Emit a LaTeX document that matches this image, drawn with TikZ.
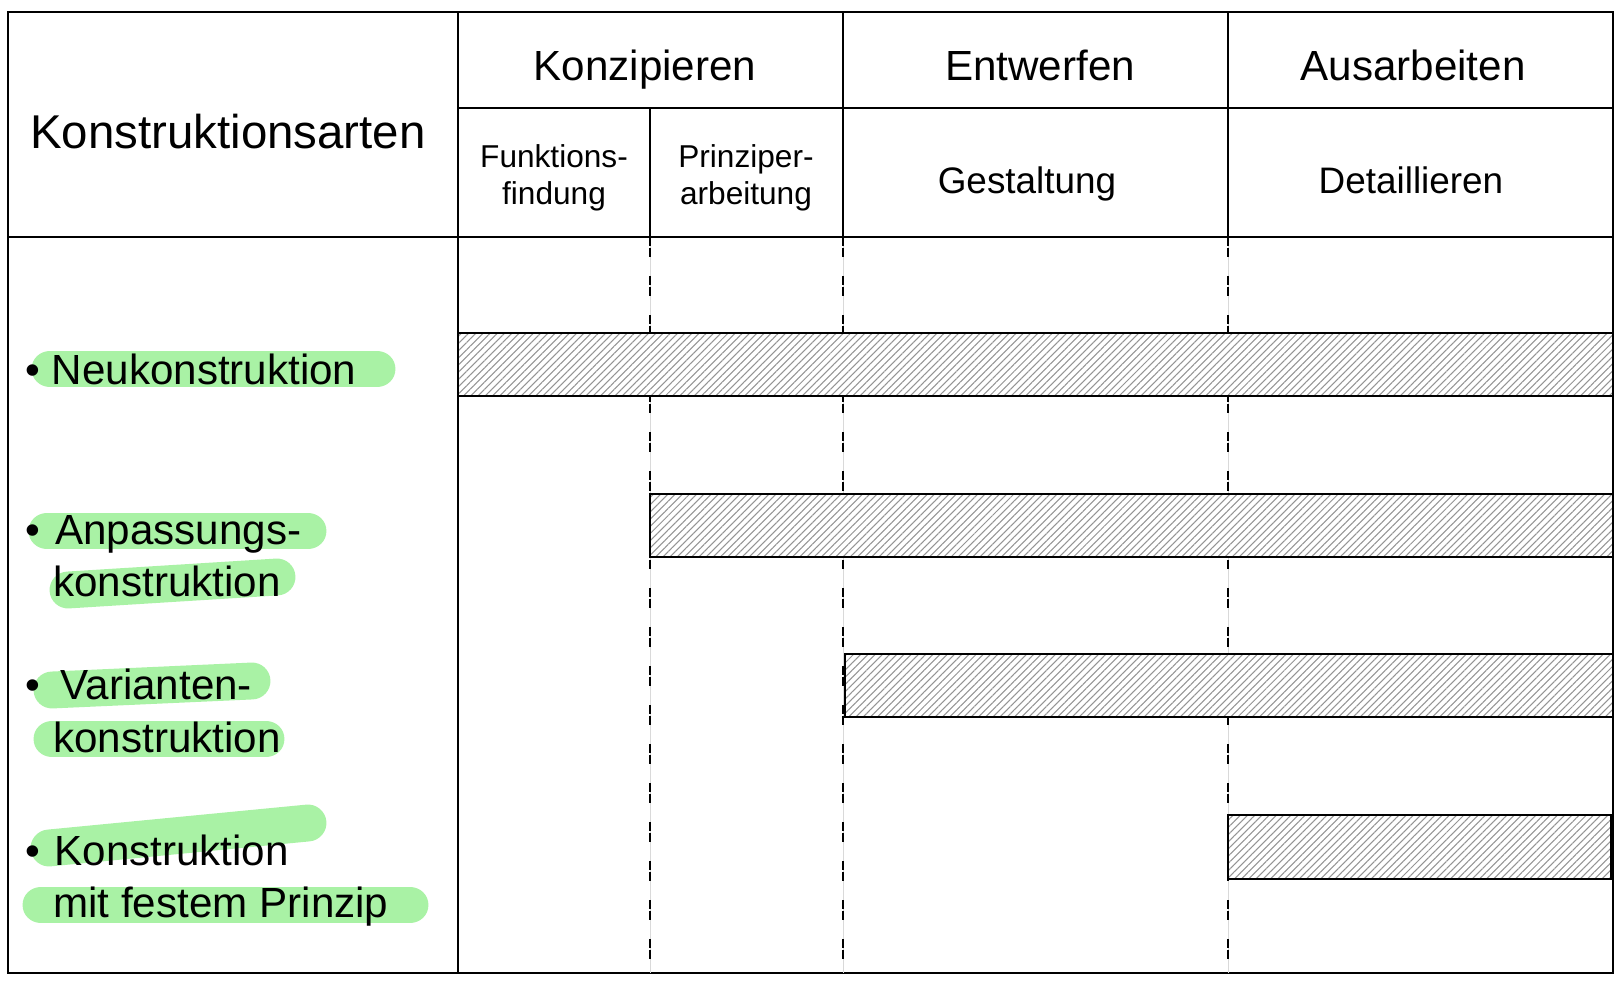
\documentclass[tikz,border=0pt]{standalone}
\usepackage{fontspec}
\setmainfont{Liberation Sans}
\usetikzlibrary{patterns.meta}
\definecolor{marker}{HTML}{A9F2A5}

\tikzset{
  frame/.style={line width=1.2pt},
  phase/.style={line width=1pt, dash pattern=on 5pt off 1.2pt on 5pt off 11pt},
  bar/.style={draw, line width=1.2pt, preaction={fill=white},
    pattern={Lines[angle=45,distance=2.9pt,line width=0.6pt]}, pattern color=black!42},
  hilite/.style={draw=marker, line width=21pt, line cap=round},
  kopf/.style={font=\fontsize{24}{28}\selectfont},
  unterkopf/.style={font=\fontsize{21}{25}\selectfont},
  klein/.style={font=\fontsize{18}{21}\selectfont, align=center},
  art/.style={font=\fontsize{24}{29}\selectfont, anchor=base west, inner sep=0pt},
}

\begin{document}
\begin{tikzpicture}[x=0.02cm,y=-0.02cm]
\useasboundingbox (0,0) rectangle (1623,982);

% Markierungen
\draw[hilite] (50,369) -- (377,369);
\draw[hilite] (47,531) -- (308,531);
\draw[hilite] (68,590) -- (277,577);
\draw[hilite] (52,690) -- (252,681);
\draw[hilite] (52,739) -- (266,739);
\draw[hilite] (49,848) -- (308,823);
\draw[hilite] (41,905) -- (410,905);

% Tabelle
\draw[frame] (8,12) rectangle (1613,973);
\draw[frame] (458,12) -- (458,973);
\draw[frame] (458,108) -- (1613,108);
\draw[frame] (8,237) -- (1613,237);
\draw[frame] (650,108) -- (650,237);
\draw[frame] (843,12) -- (843,237);
\draw[frame] (1228,12) -- (1228,237);
\foreach \x in {650,843,1228} {
  \draw[black!15, line width=0.5pt] (\x,237) -- (\x,973);
  \draw[phase] (\x,237) -- (\x,973);
}

% Balken
\draw[bar] (458,333) rectangle (1613,396);
\draw[bar] (650,494) rectangle (1613,557);
\draw[bar] (845,654) rectangle (1613,717);
\draw[bar] (1228,815) rectangle (1611,879);

% Kopf
\node[font=\fontsize{27}{32}\selectfont] (arten) at (228,132) {Konstruktionsarten};
\node[kopf] (konz) at (645,70) {Konzipieren};
\node[kopf] (entw) at (1040,65) {Entwerfen};
\node[kopf] (ausa) at (1413,65) {Ausarbeiten};
\node[klein] (funk) at (554,178) {Funktions-\\findung};
\node[klein] (prin) at (746,178) {Prinziper-\\arbeitung};
\node[unterkopf] (gest) at (1027,184) {Gestaltung};
\node[unterkopf] (deta) at (1411,180) {Detaillieren};

% Konstruktionsarten
\node[art] (neu) at (25,385) {• Neukonstruktion};
\node[art] (anp) at (25,545) {• \hspace{2pt}Anpassungs-};
\node[art] (anpb) at (53,597) {konstruktion};
\node[art] (var) at (25,700) {• \hspace{5pt}Varianten-};
\node[art] (varb) at (53,752) {konstruktion};
\node[art] (fest) at (25,865) {• \hspace{1.5pt}Konstruktion};
\node[art] (festb) at (53,917) {mit festem Prinzip};
\end{tikzpicture}
\end{document}
